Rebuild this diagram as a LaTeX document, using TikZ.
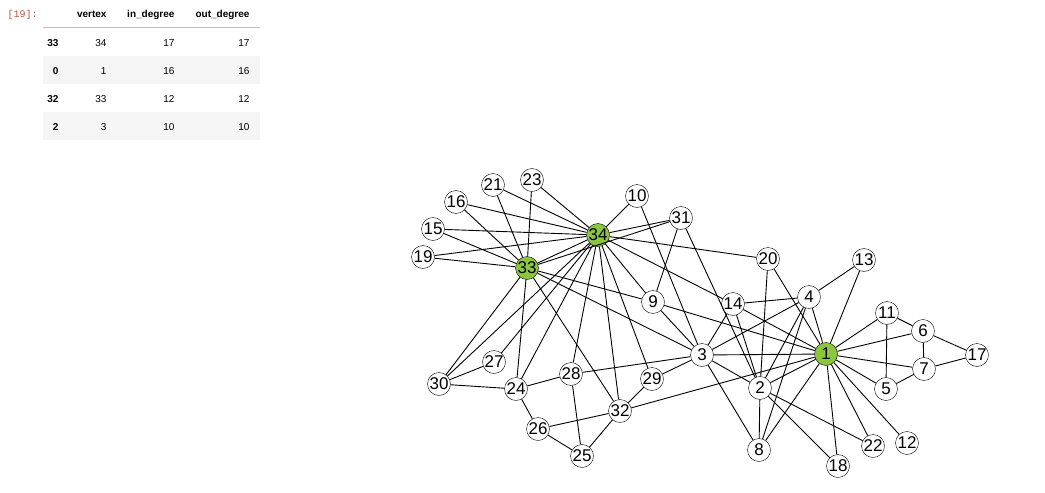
\documentclass[tikz,border=0pt]{standalone}
\usepackage{fontspec}
\setmainfont{Liberation Sans}
\setmonofont{Liberation Mono}
\begin{document}
\begin{tikzpicture}[x=1pt,y=-1pt,
  v/.style={circle,draw=black,fill=white,minimum size=23pt,inner sep=0pt,font=\fontsize{17}{17}\selectfont},
  g/.style={v,fill={rgb,255:red,140;green,198;blue,63}},
  e/.style={draw=black,line width=0.9pt},
  th/.style={font=\fontsize{10}{12}\selectfont\bfseries,anchor=base east},
  td/.style={font=\fontsize{10}{12}\selectfont,anchor=base east}]
\useasboundingbox (0,0) rectangle (1045,493);
\fill[gray!8] (43,56) rectangle (260,84);
\fill[gray!8] (43,112) rectangle (260,140);
\draw[gray!50,line width=0.8pt] (43,27) -- (260,27);
\node[font=\ttfamily\fontsize{10}{12}\selectfont,text={rgb,255:red,192;green,80;blue,60},anchor=base west] (lbl) at (4,17) {[19]:};
\node[th] (h1) at (110,17) {vertex};
\node[th] (h2) at (178,17) {in\_degree};
\node[th] (h3) at (253,17) {out\_degree};
\foreach \y/\i/\a/\b/\c in {46/33/34/17/17,74/0/1/16/16,102/32/33/12/12,130/2/3/10/10}{
  \node[th] at (62,\y) {\i};
  \node[td] at (110,\y) {\a};
  \node[td] at (178,\y) {\b};
  \node[td] at (253,\y) {\c};
}
\foreach \n/\x/\y in {2/760/388,3/702/355,4/809/297,5/886/389,6/923/331,7/924/369,8/759/450,9/653/302,10/637/196,11/887/313,12/907/443,13/864/260,14/733/304,15/433/229,16/456/202,17/977/355,18/838/466,19/423/257,20/768/259,21/493/185,22/873/446,23/532/180,24/516/389,25/582/456,26/538/429,27/494/362,28/571/374,29/652/379,30/439/384,31/681/218,32/620/411}
  \node[v] (n\n) at (\x,\y) {\n};
\node[g] (n1) at (826,354) {1};
\node[g] (n33) at (527,268) {33};
\node[g] (n34) at (598,235) {34};
\begin{scope}[on background layer/.style={}]
\end{scope}
\begin{pgfinterruptboundingbox}\end{pgfinterruptboundingbox}
\foreach \a/\b in {1/2,1/3,1/4,1/5,1/6,1/7,1/8,1/9,1/11,1/12,1/13,1/14,1/18,1/20,1/22,1/32,
 2/3,2/4,2/8,2/14,2/18,2/20,2/22,2/31,3/4,3/8,3/9,3/10,3/14,3/28,3/29,3/33,
 4/8,4/13,4/14,5/7,5/11,6/7,6/11,6/17,7/17,9/31,9/33,9/34,10/34,14/34,15/33,15/34,
 16/33,16/34,19/33,19/34,20/34,21/33,21/34,23/33,23/34,24/26,24/28,24/30,24/33,24/34,
 25/26,25/28,25/32,26/32,27/30,27/34,28/34,29/32,29/34,30/33,30/34,31/33,31/34,32/33,32/34,33/34}
  \draw[e] (n\a) -- (n\b);
\end{tikzpicture}
\end{document}
